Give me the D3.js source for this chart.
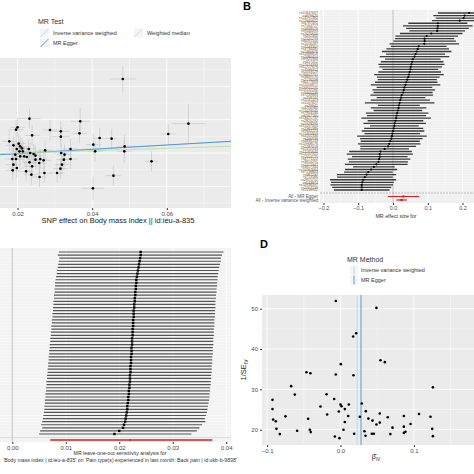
<!DOCTYPE html>
<html><head><meta charset="utf-8">
<script src="https://cdn.jsdelivr.net/npm/d3@7"></script>
<style>body{margin:0;background:#fff}svg{display:block;font-family:"Liberation Sans",Arial,sans-serif}</style>
</head><body><svg id="c" width="474" height="474"></svg>
<script>
// ---- Panel A: scatter ----
const aX=[0.0482,0.0658,0.0368,0.0232,0.0604,0.0420,0.0452,0.0487,0.0486,0.0559,0.0457,0.0402,0.0403,0.0408,0.0366,0.0316,0.0316,0.0287,0.0239,0.0200,0.0196,0.0178,0.0189,0.0203,0.0207,0.0212,0.0198,0.0205,0.0214,0.0194,0.0186,0.0189,0.0198,0.0187,0.0223,0.0237,0.0259,0.0272,0.0306,0.0315,0.0319,0.0324,0.0342,0.0342,0.0326,0.0317,0.0274,0.0270,0.0258,0.0248,0.0243,0.0234,0.0230,0.0225,0.0218,0.0232,0.0239,0.0207,0.0196,0.0248,0.0261];
const aY=[0.0222,0.0088,0.0095,0.0103,0.0057,0.0045,0.0043,0.0020,0.0005,-0.0025,-0.0068,-0.0106,0.0025,0.0005,0.0059,0.0065,0.0049,0.0069,0.0053,0.0077,0.0070,0.0035,0.0023,0.0028,0.0020,0.0014,0.0012,0.0005,0.0005,-0.0005,-0.0018,-0.0035,-0.0045,-0.0052,-0.0055,-0.0065,-0.0072,-0.0060,-0.0060,-0.0047,-0.0035,-0.0020,-0.0018,0.0012,-0.0005,0.0000,0.0008,-0.0022,-0.0030,-0.0008,-0.0003,0.0000,0.0012,-0.0012,-0.0010,-0.0028,-0.0040,-0.0010,-0.0018,-0.0020,-0.0018];
const aXse=[0.0035,0.0045,0.0025,0.0030,0.0020,0.0015,0.0015,0.0020,0.0020,0.0018,0.0020,0.0030,0.0020,0.0020,0.0020,0.0025,0.0025,0.0020,0.0020,0.0020,0.0020,0.0020,0.0020,0.0020,0.0020,0.0020,0.0020,0.0020,0.0020,0.0020,0.0020,0.0020,0.0020,0.0020,0.0020,0.0020,0.0020,0.0020,0.0020,0.0020,0.0020,0.0020,0.0020,0.0020,0.0020,0.0020,0.0020,0.0020,0.0020,0.0020,0.0020,0.0020,0.0020,0.0020,0.0020,0.0020,0.0020,0.0020,0.0020,0.0020,0.0020];
const aYse=[0.0040,0.0060,0.0040,0.0030,0.0030,0.0030,0.0030,0.0035,0.0035,0.0030,0.0030,0.0035,0.0030,0.0030,0.0030,0.0030,0.0030,0.0030,0.0030,0.0030,0.0030,0.0030,0.0030,0.0030,0.0030,0.0030,0.0030,0.0030,0.0030,0.0030,0.0030,0.0030,0.0030,0.0030,0.0030,0.0030,0.0030,0.0030,0.0030,0.0030,0.0030,0.0030,0.0030,0.0030,0.0030,0.0030,0.0030,0.0030,0.0030,0.0030,0.0030,0.0030,0.0030,0.0030,0.0030,0.0030,0.0030,0.0030,0.0030,0.0030,0.0030];
const aLines=[{name:"Inverse variance weighted",a:-0.0012,b:0.060,c:"#a6d8f0"},{name:"MR Egger",a:-0.0015,b:0.065,c:"#4a8fd0"},{name:"Weighted median",a:-0.00075,b:0.036,c:"#b8e0a8"}];
const aXTicks=[0.02,0.04,0.06];
// ---- Panel B: single SNP forest (bottom to top) ----
const bEst=[-0.090,-0.090,-0.090,-0.088,-0.086,-0.081,-0.076,-0.071,-0.063,-0.055,-0.048,-0.042,-0.040,-0.038,-0.038,-0.036,-0.024,-0.014,-0.011,-0.008,-0.005,-0.003,-0.002,0.000,0.002,0.004,0.005,0.007,0.009,0.010,0.012,0.014,0.016,0.017,0.019,0.021,0.023,0.025,0.029,0.031,0.033,0.036,0.038,0.041,0.044,0.046,0.048,0.050,0.051,0.053,0.055,0.057,0.062,0.065,0.068,0.071,0.074,0.090,0.091,0.091,0.097,0.110,0.127,0.128,0.129,0.129,0.192,0.203,0.206,0.219];
const bHalf=[0.08,0.085,0.09,0.09,0.095,0.08,0.085,0.07,0.075,0.06,0.09,0.085,0.09,0.08,0.095,0.09,0.07,0.08,0.09,0.085,0.09,0.1,0.08,0.09,0.085,0.07,0.09,0.08,0.1,0.085,0.09,0.07,0.08,0.06,0.1,0.085,0.07,0.09,0.085,0.09,0.08,0.1,0.09,0.085,0.09,0.1,0.09,0.08,0.09,0.095,0.09,0.08,0.1,0.085,0.1,0.09,0.08,0.1,0.09,0.085,0.09,0.09,0.08,0.09,0.1,0.085,0.08,0.08,0.09,0.09];
const bSnp=["rs1558902","rs2207139","rs10938397","rs543874","rs2815752","rs713586","rs987237","rs7138803","rs10767664","rs3817334","rs2112347","rs3810291","rs4771122","rs1514175","rs13107325","rs11165643","rs1555543","rs2287019","rs10968576","rs4836133","rs206936","rs3101336","rs17405819","rs9641123","rs2365389","rs11057405","rs1928295","rs2820292","rs13021737","rs6567160","rs7903146","rs12429545","rs4256980","rs29941","rs1167827","rs2241423","rs758747","rs7239883","rs9400239","rs10132280","rs16951275","rs12016871","rs6477694","rs2176598","rs3849570","rs16907751","rs2033529","rs7599312","rs11727676","rs17024393","rs657452","rs9925964","rs2080454","rs11688816","rs1460676","rs3736485","rs7243357","rs1016287","rs6091540","rs2121279","rs492400","rs2075650","rs9540493","rs1808579","rs7164727","rs4787491","rs12940622","rs13191362","rs879620","rs11847697"];
const bSum=[{name:"All - Inverse variance weighted",est:0.025,lo:0.010,hi:0.040},{name:"All - MR Egger",est:0.030,lo:-0.015,hi:0.075}];
const bXTicks=[-0.2,-0.1,0.0,0.1,0.2];
// ---- Panel C: leave-one-out (top to bottom) ----
const cEst=[0.0240,0.0240,0.0239,0.0238,0.0237,0.0236,0.0235,0.0234,0.0233,0.0232,0.0232,0.0231,0.0231,0.0230,0.0230,0.0229,0.0229,0.0228,0.0228,0.0227,0.0227,0.0227,0.0226,0.0226,0.0226,0.0225,0.0225,0.0225,0.0224,0.0224,0.0224,0.0223,0.0223,0.0223,0.0222,0.0222,0.0222,0.0221,0.0221,0.0221,0.0220,0.0220,0.0220,0.0219,0.0219,0.0218,0.0218,0.0217,0.0217,0.0216,0.0215,0.0215,0.0214,0.0213,0.0212,0.0211,0.0209,0.0207,0.0200,0.0191];
const cLo=[0.0087,0.0085,0.0088,0.0087,0.0086,0.0085,0.0084,0.0083,0.0082,0.0081,0.0080,0.0080,0.0079,0.0079,0.0078,0.0078,0.0077,0.0077,0.0076,0.0076,0.0075,0.0075,0.0074,0.0074,0.0073,0.0073,0.0072,0.0072,0.0071,0.0071,0.0070,0.0070,0.0069,0.0069,0.0068,0.0068,0.0067,0.0067,0.0066,0.0066,0.0065,0.0065,0.0064,0.0064,0.0063,0.0063,0.0062,0.0062,0.0061,0.0061,0.0060,0.0060,0.0059,0.0058,0.0057,0.0056,0.0054,0.0056,0.0052,0.0050];
const cHi=[0.0395,0.0392,0.0390,0.0390,0.0388,0.0387,0.0386,0.0385,0.0384,0.0384,0.0383,0.0383,0.0382,0.0382,0.0381,0.0381,0.0380,0.0380,0.0380,0.0379,0.0379,0.0379,0.0378,0.0378,0.0378,0.0377,0.0377,0.0377,0.0376,0.0376,0.0376,0.0375,0.0375,0.0375,0.0374,0.0374,0.0374,0.0373,0.0373,0.0373,0.0372,0.0372,0.0371,0.0371,0.0370,0.0370,0.0369,0.0369,0.0368,0.0367,0.0366,0.0365,0.0364,0.0362,0.0360,0.0361,0.0355,0.0350,0.0345,0.0335];
const cAll={est:0.0220,lo:0.0071,hi:0.0374};
const cXTicks=[0.00,0.01,0.02,0.03,0.04];
// ---- Panel D: funnel ----
const dB=[-0.0064,0.049,0.0173,0.0214,0.0545,0.0605,0.0005,-0.0464,-0.041,-0.0064,0.0177,0.126,-0.0673,-0.0623,-0.0927,-0.019,-0.0086,-0.0273,-0.0182,0,0.0014,0.0114,0.0059,-0.0023,0.0105,0.0059,0.0041,0.029,0.0264,0.0345,0.038,0.0436,0.049,0.0536,0.0536,0.0645,0.0709,0.0864,0.0864,0.0955,0.107,0.1227,0.125,0.126,-0.0927,-0.0918,-0.0882,-0.075,-0.0441,-0.0873,-0.0827,-0.0591,-0.0418,-0.0405,-0.0077,-0.0014,0.0186,0.0327,0.0341,0.0427,0.0455,0.068,0.0864,0.0886];
const dP=[51.9,50.2,43.1,43.9,37.2,36.75,36.25,34.25,34.0,33.7,33.5,30.5,30.8,28.7,27.4,28.8,27.6,25.75,23.75,26.25,25.8,26.25,25.1,24.5,23.4,21.9,20,26.5,23.2,24.6,22.75,22.25,21.3,24,21.75,23.1,20.5,23.4,20.75,21.4,23.9,23.2,20.2,18.4,25.1,22.5,22.1,23.3,22.7,20.2,18.9,19.75,20,19.4,18.3,17.9,19,19.6,18.5,19,19,18.9,19.2,19.5];
const dLines=[{name:"Inverse variance weighted",b:0.0227,c:"#b5dcf0"},{name:"MR Egger",b:0.028,c:"#5a9bd0"}];
const dXTicks=[-0.1,0.0,0.1], dYTicks=[20,30,40,50];

const svg=d3.select("#c");
const GREY="#ebebeb", TICK="#4d4d4d";
function panel(x0,y0,w,h,fill){svg.append("rect").attr("x",x0).attr("y",y0).attr("width",w).attr("height",h).attr("fill",fill);}
function vgrid(g,xs,ticks,y0,y1,minor){
  ticks.forEach(t=>g.append("line").attr("x1",xs(t)).attr("x2",xs(t)).attr("y1",y0).attr("y2",y1).attr("stroke","#fff").attr("stroke-width",minor?0.4:0.8));
}
function xaxis(xs,ticks,y,fmt,fs,pad){
  const ax=svg.append("g").attr("transform",`translate(0,${y})`).call(d3.axisBottom(xs).tickValues(ticks).tickFormat(fmt).tickSize(2).tickPadding(pad||2));
  ax.select(".domain").remove();
  ax.selectAll("line").attr("stroke","#333");
  ax.selectAll("text").attr("font-size",fs||6).attr("fill",TICK).attr("font-family","Liberation Sans,Arial");
}
// ---------- A ----------
{
  const x=d3.scaleLinear().domain([0.0153,0.0772]).range([0,231]);
  const y=d3.scaleLinear().domain([-0.0165,0.0285]).range([208,58]);
  panel(0,58,231,150,GREY);
  const g=svg.append("g");
  vgrid(g,x,[0.03,0.05,0.07],58,208,true);
  vgrid(g,x,aXTicks,58,208,false);
  [-0.015,-0.005,0.005,0.015,0.025].forEach(t=>g.append("line").attr("x1",0).attr("x2",231).attr("y1",y(t)).attr("y2",y(t)).attr("stroke","#fff").attr("stroke-width",0.4));
  [-0.01,0,0.01,0.02].forEach(t=>g.append("line").attr("x1",0).attr("x2",231).attr("y1",y(t)).attr("y2",y(t)).attr("stroke","#fff").attr("stroke-width",0.8));
  const cl=g.append("g").attr("clip-path","url(#ca)");
  svg.append("clipPath").attr("id","ca").append("rect").attr("x",0).attr("y",58).attr("width",231).attr("height",150);
  aX.forEach((v,i)=>{
    cl.append("line").attr("x1",x(v-aXse[i])).attr("x2",x(v+aXse[i])).attr("y1",y(aY[i])).attr("y2",y(aY[i])).attr("stroke","#bdbdbd").attr("stroke-width",0.5);
    cl.append("line").attr("x1",x(v)).attr("x2",x(v)).attr("y1",y(aY[i]-aYse[i])).attr("y2",y(aY[i]+aYse[i])).attr("stroke","#bdbdbd").attr("stroke-width",0.5);
  });
  aLines.forEach(l=>cl.append("line").attr("x1",x(0.0153)).attr("x2",x(0.0772)).attr("y1",y(l.a+l.b*0.0153)).attr("y2",y(l.a+l.b*0.0772)).attr("stroke",l.c).attr("stroke-width",0.9));
  aX.forEach((v,i)=>cl.append("circle").attr("cx",x(v)).attr("cy",y(aY[i])).attr("r",1.3).attr("fill","#000"));
  xaxis(x,aXTicks,208,d3.format(".2f"));
  svg.append("text").attr("x",118).attr("y",223).attr("text-anchor","middle").attr("font-size",7.5).attr("fill","#222").text("SNP effect on Body mass index || id:ieu-a-835");
  svg.append("text").attr("x",38).attr("y",24).attr("font-size",7).attr("fill","#333").text("MR Test");
  const items=[[0,40,33],[2,134,33],[1,40,43]];
  items.forEach(([k,lx,ly])=>{
    svg.append("rect").attr("x",lx).attr("y",ly-4.5).attr("width",9).attr("height",9).attr("fill","#f5f5f5");
    svg.append("line").attr("x1",lx+0.5).attr("x2",lx+8.5).attr("y1",ly+4).attr("y2",ly-4).attr("stroke",aLines[k].c).attr("stroke-width",0.9);
    svg.append("text").attr("x",lx+13).attr("y",ly+2).attr("font-size",5.5).attr("fill","#333").text(aLines[k].name);
  });
}
// ---------- B ----------
{
  const x=d3.scaleLinear().domain([-0.21,0.233]).range([320,474]);
  const n=bEst.length;
  const y=d3.scaleLinear().domain([0,n-1]).range([190,13]);
  panel(320,10,154,193,"#f0f0f0");
  const g=svg.append("g");
  vgrid(g,x,[-0.15,-0.05,0.05,0.15],10,203,true);
  vgrid(g,x,bXTicks,10,203,false);
  bEst.forEach((v,i)=>g.append("line").attr("x1",320).attr("x2",474).attr("y1",y(i)).attr("y2",y(i)).attr("stroke","#fff").attr("stroke-width",0.4));
  g.append("line").attr("x1",x(0)).attr("x2",x(0)).attr("y1",10).attr("y2",203).attr("stroke","#999").attr("stroke-width",0.6);
  bEst.forEach((v,i)=>{
    g.append("line").attr("x1",x(v-bHalf[i])).attr("x2",Math.min(474,x(v+bHalf[i]))).attr("y1",y(i)).attr("y2",y(i)).attr("stroke","#3a3a3a").attr("stroke-width",1.3);
    g.append("circle").attr("cx",x(v)).attr("cy",y(i)).attr("r",1.1).attr("fill","#000");
  });
  g.append("line").attr("x1",320).attr("x2",474).attr("y1",193).attr("y2",193).attr("stroke","#888").attr("stroke-width",0.5).attr("stroke-dasharray","2,1");
  const sy=[200,196.5];
  bSum.forEach((s,i)=>{
    g.append("line").attr("x1",x(s.lo)).attr("x2",x(s.hi)).attr("y1",sy[i]).attr("y2",sy[i]).attr("stroke","#e41a1c").attr("stroke-width",1.2);
    g.append("circle").attr("cx",x(s.est)).attr("cy",sy[i]).attr("r",1.3).attr("fill","#e41a1c");
  });
  const lab=svg.append("g").attr("font-size",3.6).attr("fill","#555").attr("text-anchor","end");
  bSnp.forEach((s,i)=>lab.append("text").attr("x",318).attr("y",y(i)+1.2).text(s));
  svg.append("text").attr("x",318).attr("y",202).attr("text-anchor","end").attr("font-size",4.6).attr("fill","#555").text(bSum[0].name);
  svg.append("text").attr("x",318).attr("y",197.5).attr("text-anchor","end").attr("font-size",4.6).attr("fill","#555").text(bSum[1].name);
  xaxis(x,bXTicks,203,d3.format(".1f"),5.5,1);
  svg.append("text").attr("x",396).attr("y",218).attr("text-anchor","middle").attr("font-size",5.3).attr("fill","#333").text("MR effect size for");
  svg.append("text").attr("x",243).attr("y",10).attr("font-size",11).attr("font-weight","bold").text("B");
}
// ---------- C ----------
{
  const x=d3.scaleLinear().domain([-0.0023,0.0409]).range([0,231]);
  const n=cEst.length;
  const y=d3.scaleLinear().domain([0,n-1]).range([252,434]);
  panel(0,248,231,194,"#f3f3f3");
  const g=svg.append("g");
  vgrid(g,x,cXTicks,248,442,false);
  cEst.forEach((v,i)=>g.append("line").attr("x1",0).attr("x2",231).attr("y1",y(i)).attr("y2",y(i)).attr("stroke","#fff").attr("stroke-width",0.4));
  g.append("line").attr("x1",x(0)).attr("x2",x(0)).attr("y1",248).attr("y2",442).attr("stroke","#999").attr("stroke-width",0.6);
  cEst.forEach((v,i)=>g.append("line").attr("x1",x(cLo[i])).attr("x2",x(cHi[i])).attr("y1",y(i)).attr("y2",y(i)).attr("stroke","#555").attr("stroke-width",1.2));
  cEst.forEach((v,i)=>g.append("rect").attr("x",x(v)-1.2).attr("y",y(i)-1.2).attr("width",2.4).attr("height",2.4).attr("fill","#000"));
  g.append("line").attr("x1",231).attr("x2",0).attr("y1",437.5).attr("y2",437.5).attr("stroke","#bbb").attr("stroke-width",0.4);
  g.append("line").attr("x1",x(cAll.lo)).attr("x2",x(cAll.hi)).attr("y1",440).attr("y2",440).attr("stroke","#e41a1c").attr("stroke-width",1.4);
  g.append("circle").attr("cx",x(cAll.est)).attr("cy",440).attr("r",1).attr("fill","#e41a1c");
  xaxis(x,cXTicks,442,d3.format(".2f"));
  svg.append("text").attr("x",120).attr("y",455).attr("text-anchor","middle").attr("font-size",5.2).attr("fill","#333").text("MR leave-one-out sensitivity analysis for");
  svg.append("text").attr("x",120).attr("y",461.5).attr("text-anchor","middle").attr("font-size",5.2).attr("fill","#333").text("'Body mass index | id:ieu-a-835' on 'Pain type(s) experienced in last month: Back pain | id:ukb-b-9838'");
}
// ---------- D ----------
{
  const x=d3.scaleLinear().domain([-0.107,0.182]).range([262,474]);
  const y=d3.scaleLinear().domain([16.2,53.4]).range([445,295]);
  panel(262,295,212,150,GREY);
  const g=svg.append("g");
  vgrid(g,x,[-0.05,0.05,0.15],295,445,true);
  vgrid(g,x,dXTicks,295,445,false);
  [25,35,45].forEach(t=>g.append("line").attr("x1",262).attr("x2",474).attr("y1",y(t)).attr("y2",y(t)).attr("stroke","#fff").attr("stroke-width",0.4));
  dYTicks.forEach(t=>g.append("line").attr("x1",262).attr("x2",474).attr("y1",y(t)).attr("y2",y(t)).attr("stroke","#fff").attr("stroke-width",0.8));
  dLines.forEach(l=>g.append("line").attr("x1",x(l.b)).attr("x2",x(l.b)).attr("y1",295).attr("y2",445).attr("stroke",l.c).attr("stroke-width",1));
  dB.forEach((v,i)=>g.append("circle").attr("cx",x(v)).attr("cy",y(dP[i])).attr("r",1.3).attr("fill","#000"));
  xaxis(x,dXTicks,445,d3.format(".1f"));
  const ay=svg.append("g").attr("transform","translate(262,0)").call(d3.axisLeft(y).tickValues(dYTicks).tickSize(2).tickPadding(2));
  ay.select(".domain").remove(); ay.selectAll("line").attr("stroke","#333");
  ay.selectAll("text").attr("font-size",6).attr("fill",TICK);
  const yt=svg.append("text").attr("transform","translate(246,370) rotate(-90)").attr("text-anchor","middle").attr("font-size",7.5).attr("fill","#222");
  yt.append("tspan").text("1/SE");
  yt.append("tspan").attr("font-size",5).attr("dy",1.5).text("IV");
  const xt=svg.append("text").attr("x",376).attr("y",459).attr("text-anchor","middle").attr("font-size",7).attr("fill","#222");
  xt.append("tspan").text("β̂");
  xt.append("tspan").attr("font-size",4.5).attr("dy",1.5).text("IV");
  svg.append("text").attr("x",347).attr("y",262).attr("font-size",7).attr("fill","#333").text("MR Method");
  dLines.forEach((l,i)=>{
    const ly=270+i*10;
    svg.append("rect").attr("x",350).attr("y",ly-4.5).attr("width",8).attr("height",9).attr("fill","#f5f5f5");
    svg.append("line").attr("x1",354).attr("x2",354).attr("y1",ly-4.5).attr("y2",ly+4.5).attr("stroke",l.c).attr("stroke-width",1);
    svg.append("text").attr("x",361).attr("y",ly+2).attr("font-size",5.5).attr("fill","#333").text(l.name);
  });
  svg.append("text").attr("x",260).attr("y",248).attr("font-size",11).attr("font-weight","bold").text("D");
}
</script></body></html>
